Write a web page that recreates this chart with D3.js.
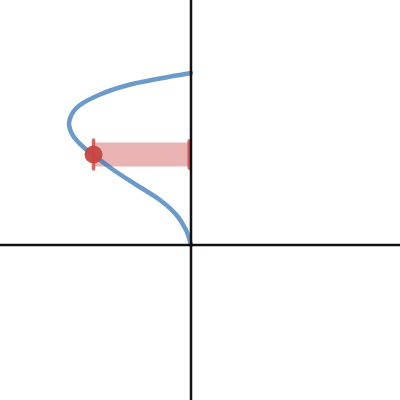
<!DOCTYPE html>
<html>
<head>
<meta charset="utf-8">
<script src="https://cdn.jsdelivr.net/npm/d3@7"></script>
<style>
  html, body { margin: 0; padding: 0; background: #fff; }
  svg { display: block; }
</style>
</head>
<body>
<svg id="chart"></svg>
<script>
// curve samples (x, y) in graph units
const curveX = [0, -0.06, -0.10, -0.29, -0.62, -1.09, -1.55, -1.95, -2.12, -2.35, -2.44, -2.42, -2.35, -2.22, -1.82, -1.29, -0.62, 0];
const curveY = [0, 0.20, 0.30, 0.60, 0.90, 1.20, 1.50, 1.80, 1.93, 2.17, 2.40, 2.53, 2.67, 2.80, 3.01, 3.19, 3.33, 3.44];

// highlighted strip and its point
const stripLow = 1.57;
const stripHigh = 2.05;
const pointX = -1.95;
const pointY = 1.81;
const tickLow = 1.52;
const tickHigh = 2.10;

const width = 400, height = 400;

const x = d3.scaleLinear().domain([-3.82, 4.18]).range([0, width]);
const y = d3.scaleLinear().domain([-3.1, 4.9]).range([height, 0]);

const svg = d3.select("#chart")
    .attr("width", width)
    .attr("height", height);

const blue = "#2d70b3";
const red = "#c74440";

// strip (drawn first, curve shows through)
svg.append("rect")
    .attr("x", x(pointX))
    .attr("y", y(stripHigh))
    .attr("width", x(0) - x(pointX))
    .attr("height", y(stripLow) - y(stripHigh))
    .attr("fill", red)
    .attr("fill-opacity", 0.4);

// the curve
const pts = curveX.map((d, i) => [d, curveY[i]]);
const line = d3.line()
    .x(d => x(d[0]))
    .y(d => y(d[1]))
    .curve(d3.curveCatmullRom.alpha(0.5));

svg.append("path")
    .datum(pts)
    .attr("d", line)
    .attr("fill", "none")
    .attr("stroke", blue)
    .attr("stroke-opacity", 0.7)
    .attr("stroke-width", 4.5)
    .attr("stroke-linecap", "round");

// bar on the y axis
svg.append("line")
    .attr("x1", x(0) - 1.5).attr("x2", x(0) - 1.5)
    .attr("y1", y(tickHigh) + 1).attr("y2", y(tickLow) - 1)
    .attr("stroke", red)
    .attr("stroke-opacity", 0.8)
    .attr("stroke-width", 4)
    .attr("stroke-linecap", "round");

// axes
svg.append("line")
    .attr("x1", 0).attr("x2", width)
    .attr("y1", y(0)).attr("y2", y(0))
    .attr("stroke", "#111")
    .attr("stroke-width", 2.5);
svg.append("line")
    .attr("x1", x(0)).attr("x2", x(0))
    .attr("y1", 0).attr("y2", height)
    .attr("stroke", "#111")
    .attr("stroke-width", 2.5);

// tick through the point
svg.append("line")
    .attr("x1", x(pointX)).attr("x2", x(pointX))
    .attr("y1", y(tickHigh)).attr("y2", y(tickLow))
    .attr("stroke", red)
    .attr("stroke-opacity", 0.8)
    .attr("stroke-width", 3.5)
    .attr("stroke-linecap", "round");

// the point
svg.append("circle")
    .attr("cx", x(pointX))
    .attr("cy", y(pointY))
    .attr("r", 9)
    .attr("fill", red)
    .attr("fill-opacity", 0.95);
</script>
</body>
</html>
